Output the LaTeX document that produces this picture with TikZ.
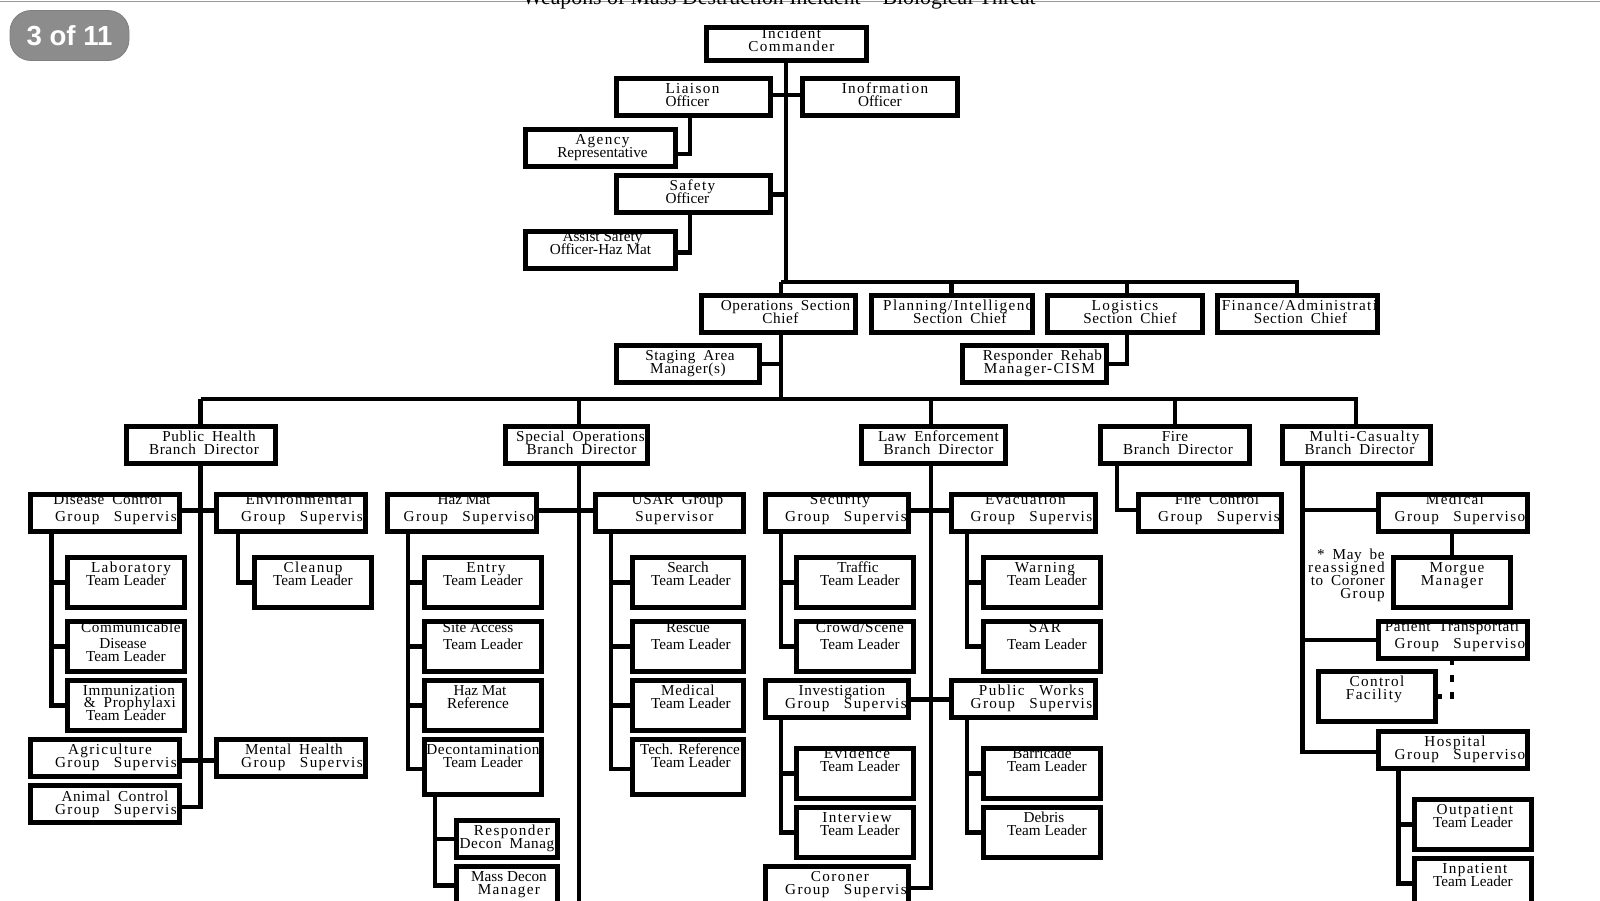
\documentclass[tikz,border=0pt]{standalone}
\usepackage{fontspec}
\setmainfont{Liberation Serif}
\newfontfamily\wf[LetterSpace=9,WordSpace=2.8]{Liberation Serif}
\newfontfamily\wg[LetterSpace=4,WordSpace=1.8]{Liberation Serif}
\newfontfamily\badgefont{Liberation Sans}
\newcommand\chartfont{\fontsize{7.6}{6.35}\selectfont\lineskiplimit=-8pt}
\newcommand\mv[2]{\hspace*{#1pt}{#2}}
\newcommand\ws[2]{\hspace*{#1pt}{\wf #2}}
\newcommand\wt[2]{\hspace*{#1pt}{\wg #2}}
\tikzset{
    box/.style={draw, line width=2.3pt, rectangle, anchor=north west, inner sep=0pt, outer sep=0pt, align=center, text height=14pt, text depth=4.75pt, font=\chartfont},
    groupbox/.style={box, text height=13.4pt, text depth=5.35pt, minimum width=74.75pt},
    flatbox/.style={groupbox, text height=14pt, text depth=4.75pt},
    teambox/.style={box, text depth=11.25pt, minimum width=58.75pt},
    usarbox/.style={teambox, minimum width=55.75pt},
    tallbox/.style={teambox, text depth=13.75pt},
    smallbox/.style={box, minimum width=50.75pt},
    link/.style={draw, line width=2.3pt},
    dashlink/.style={link, dash pattern=on 3.5pt off 5pt, dash phase=1.7pt},
    stublink/.style={link, dash pattern=on 3pt off 10pt},
    badge/.style={rectangle, rounded corners=10.5pt, fill=black!45, draw=black!50, line width=.4pt, minimum width=59.5pt, minimum height=25pt, inner sep=0pt, text=white, font=\badgefont\bfseries\fontsize{13.8}{14}\selectfont},
    note/.style={anchor=base east, align=right, inner sep=0pt, font=\chartfont\wg},
    rule/.style={draw=black!40, line width=.6pt}
}

\begin{document}
\begin{tikzpicture}[x=0.5pt,y=-0.5pt]
\clip (0,0) rectangle (1600,900);

\coordinate (ruleL) at (0,1.4);
\coordinate (ruleR) at (1600,1.4);
\draw[rule] (ruleL) -- (ruleR);
\node[anchor=base, inner sep=0pt, font=\fontsize{10.9}{12}\selectfont] (title) at (779,4.5) {Weapons of Mass Destruction Incident -- Biological Threat};
\node[badge] (pageno) at (69.5,35.5) {3 of 11};

\node[box, minimum width=80.25pt, text height=11.9pt, text depth=4.85pt] (ic) at (706.2,27.2) {\ws{5}{Incident}\\\ws{5}{Commander}};
\node[box, minimum width=77.25pt] (liaison) at (616.2,78.2) {\ws{-1}{Liaison}\\\mv{-6}{Officer}};
\node[box, minimum width=77.75pt] (info) at (802.2,78.2) {\ws{5}{Inofrmation}\\Officer};
\node[box, minimum width=75.25pt] (agency) at (525.2,129.2) {\ws{2}{Agency}\\\mv{2}{Representative}};
\node[box, minimum width=77.25pt] (safety) at (616.2,175.2) {\ws{-1}{Safety}\\\mv{-6}{Officer}};
\node[box, minimum width=75.25pt, text height=11.6pt, text depth=7.15pt] (assist) at (525.2,231.2) {\mv{2}{Assist Safety}\\Officer-Haz Mat};

\node[box, minimum width=77.25pt] (ops) at (701.2,295.2) {\wt{7}{Operations Section}\\\wt{2}{Chief}};
\node[box, minimum width=80.25pt] (planning) at (871.2,295.2) {\ws{6}{Planning/Intelligenc}\\\wt{8}{Section Chief}};
\node[box, minimum width=77.75pt] (logistics) at (1047.2,295.2) {\ws{0}{Logistics}\\\wt{5}{Section Chief}};
\node[box, minimum width=80.25pt] (finance) at (1217.2,295.2) {\ws{2}{Finance/Administrati}\\\wt{3}{Section Chief}};
\node[box, minimum width=71.75pt] (staging) at (616.2,345.2) {\wt{2}{Staging Area}\\\wt{0}{Manager(s)}};
\node[box, minimum width=72.25pt] (rehab) at (962.2,345.2) {\wt{8}{Responder Rehab}\\\ws{5}{Manager-CISM}};

\node[box, minimum width=74.75pt] (public) at (126.2,426.2) {\wt{8}{Public Health}\\\wt{3}{Branch Director}};
\node[box, minimum width=71.25pt] (special) at (505.2,426.2) {\wt{4}{Special Operations}\\\wt{5}{Branch Director}};
\node[box, minimum width=72.25pt] (law) at (861.2,426.2) {\wt{5}{Law Enforcement}\\\wt{5}{Branch Director}};
\node[box, minimum width=74.75pt] (fire) at (1100.2,426.2) {\wt{0}{Fire}\\\wt{3}{Branch Director}};
\node[box, minimum width=74.25pt] (multi) at (1282.2,426.2) {\ws{8}{Multi-Casualty}\\\wt{3}{Branch Director}};

\node[groupbox] (disease) at (30.2,494.2) {\wt{3}{Disease Control}\\[2.1pt]\ws{11}{Group Supervis}};
\node[groupbox] (env) at (216.2,494.2) {\ws{8}{Environmental}\\[2.1pt]\ws{11}{Group Supervis}};
\node[teambox] (lab) at (67.2,557.2) {\ws{5}{Laboratory}\\Team Leader};
\node[teambox] (cleanup) at (254.2,557.2) {\ws{0}{Cleanup}\\Team Leader};
\node[teambox, text height=20.2pt, text depth=5.05pt] (comm) at (67.2,621.2) {\wt{5}{Communicable}\\[2.1pt]\mv{-3}{Disease}\\Team Leader};
\node[teambox, text height=20.2pt, text depth=5.05pt] (immun) at (67.2,680.2) {\wt{3}{Immunization}\\\wt{4}{\& Prophylaxi}\\Team Leader};
\node[flatbox] (agri) at (30.2,739.2) {\ws{5}{Agriculture}\\\ws{11}{Group Supervis}};
\node[flatbox] (mental) at (216.2,739.2) {\wt{3}{Mental Health}\\\ws{11}{Group Supervis}};
\node[flatbox, text height=14.6pt, text depth=4.15pt] (animal) at (30.2,785.2) {\wt{10}{Animal Control}\\\ws{11}{Group Supervis}};

\node[groupbox] (hazmat) at (387.2,494.2) {\mv{2}{Haz Mat}\\[2.1pt]\ws{7}{Group Superviso}};
\node[groupbox, minimum width=74.25pt] (usar) at (595.2,494.2) {\wt{8}{USAR Group}\\[2.1pt]\ws{5}{Supervisor}};
\node[teambox] (entry) at (424.2,557.2) {\ws{3}{Entry}\\Team Leader};
\node[teambox] (site) at (424.2,621.2) {\mv{-5}{Site Access}\\[2.1pt]Team Leader};
\node[teambox] (hazref) at (424.2,680.2) {\mv{-3}{Haz Mat}\\\mv{-5}{Reference}};
\node[tallbox] (decon) at (424.2,739.2) {\wt{0}{Decontamination}\\Team Leader};
\node[smallbox] (rdecon) at (456.2,820.2) {\ws{5}{Responder}\\\wt{0}{Decon Manag}};
\node[smallbox, text depth=5.5pt] (mass) at (456.2,866.2) {\mv{2}{Mass Decon}\\\ws{2}{Manager}};
\node[usarbox] (search) at (632.2,557.2) {\mv{0}{Search}\\\mv{3}{Team Leader}};
\node[usarbox] (rescue) at (632.2,621.2) {\mv{0}{Rescue}\\[2.1pt]\mv{3}{Team Leader}};
\node[usarbox] (medteam) at (632.2,680.2) {\wt{0}{Medical}\\\mv{3}{Team Leader}};
\node[usarbox, text depth=13.75pt] (tech) at (632.2,739.2) {\mv{2}{Tech. Reference}\\\mv{3}{Team Leader}};

\node[groupbox, minimum width=71.75pt] (security) at (765.2,494.2) {\ws{3}{Security}\\[2.1pt]\ws{9}{Group Supervis}};
\node[groupbox, minimum width=72.25pt] (evac) at (951.2,494.2) {\ws{2}{Evacuation}\\[2.1pt]\ws{8}{Group Supervis}};
\node[teambox] (traffic) at (796.2,557.2) {\mv{3}{Traffic}\\\mv{5}{Team Leader}};
\node[teambox] (crowd) at (796.2,621.2) {\wt{5}{Crowd/Scene}\\[2.1pt]\mv{5}{Team Leader}};
\node[flatbox, minimum width=71.75pt] (invest) at (765.2,680.2) {\wt{5}{Investigation}\\\ws{9}{Group Supervis}};
\node[teambox, text height=11.6pt, text depth=13.65pt] (evidence) at (796.2,748.2) {\ws{2}{Evidence}\\\mv{5}{Team Leader}};
\node[teambox] (interview) at (796.2,807.2) {\ws{2}{Interview}\\\mv{5}{Team Leader}};
\node[flatbox, minimum width=71.75pt] (coroner) at (765.2,866.2) {\ws{3}{Coroner}\\\ws{9}{Group Supervis}};
\node[teambox] (warning) at (983.2,557.2) {\ws{3}{Warning}\\\mv{5}{Team Leader}};
\node[teambox] (sar) at (983.2,621.2) {\ws{3}{SAR}\\[2.1pt]\mv{5}{Team Leader}};
\node[flatbox, minimum width=72.25pt] (works) at (951.2,680.2) {\ws{8}{Public Works}\\\ws{8}{Group Supervis}};
\node[teambox, text height=11.6pt, text depth=13.65pt] (barricade) at (983.2,748.2) {\mv{0}{Barricade}\\\mv{5}{Team Leader}};
\node[teambox] (debris) at (983.2,807.2) {\mv{2}{Debris}\\\mv{5}{Team Leader}};

\node[groupbox, minimum width=71.75pt] (firectrl) at (1138.2,494.2) {\wt{7}{Fire Control}\\[2.1pt]\ws{9}{Group Supervis}};
\node[groupbox] (medical) at (1378.2,494.2) {\ws{2}{Medical}\\[2.1pt]\ws{7}{Group Superviso}};
\node[teambox] (morgue) at (1393.2,557.2) {\ws{5}{Morgue}\\\ws{0}{Manager}};
\node[groupbox] (patient) at (1378.2,621.2) {\wt{-1}{Patient Transportati}\\[2.1pt]\ws{7}{Group Superviso}};
\node[teambox] (control) at (1318.2,671.2) {\ws{0}{Control}\\\ws{-3}{Facility}};
\node[flatbox] (hospital) at (1378.2,731.2) {\ws{2}{Hospital}\\\ws{7}{Group Superviso}};
\node[teambox] (outpatient) at (1414.2,799.2) {\ws{2}{Outpatient}\\Team Leader};
\node[teambox] (inpatient) at (1414.2,858.2) {\ws{2}{Inpatient}\\Team Leader};
\node[note] (reassign) at (1385,598) {* May be\\\hspace*{0pt}{\wf reassigned}\hspace*{5pt}\\to Coroner\\{\wf Group}};

\coordinate (icbus) at (786,282);
\coordinate (opsdrop) at (781,282);
\coordinate (busend) at (1297,282);
\coordinate (planbus) at (951.5,282);
\coordinate (logbus) at (1127,282);
\coordinate (officerL) at (690,118);
\coordinate (officerS) at (690,215);
\coordinate (opsstem) at (781,335);
\coordinate (opsbus) at (781,399);
\coordinate (logstem) at (1127,335);
\draw[link] (icbus |- ic.south) -- (icbus);
\draw[link] (opsdrop) -- (busend) -- (finance.north -| busend);
\draw[link] (opsdrop) -- (opsdrop |- ops.north);
\draw[link] (planbus) -- (planbus |- planning.north);
\draw[link] (logbus) -- (logbus |- logistics.north);
\draw[link] ([yshift=1pt]liaison.east) -- ([yshift=1pt]info.west);
\draw[link] ([yshift=-.2pt]safety.east) -- ([yshift=-.2pt]safety.east -| icbus);
\draw[link] (officerL) |- ([yshift=-3pt]agency.east);
\draw[link] (officerS) |- ([yshift=-1.3pt]assist.east);
\draw[link] (opsstem) -- (opsbus);
\draw[link] (staging.east) -- (staging.east -| opsstem);
\draw[link] (logstem) |- (rehab.east);

\coordinate (busL) at (200.5,399);
\coordinate (busR) at (1356,399);
\coordinate (busS) at (579,399);
\coordinate (busN) at (931,399);
\coordinate (busF) at (1175,399);
\coordinate (specialend) at (579,905);
\coordinate (lawstem) at (931,888);
\coordinate (publicstem) at (200.5,807);
\coordinate (firestem) at (1117,465);
\coordinate (multistem) at (1302.5,465);
\draw[link] (busL) -- (busR) -- (busR |- multi.north);
\draw[link] (busL) -- (busL |- public.north);
\draw[link] (busS) -- (busS |- special.north);
\draw[link] (busS |- special.south) -- (specialend);
\draw[link] (busN) -- (busN |- law.north);
\draw[link] (busN |- law.south) -- (lawstem) -- (lawstem -| coroner.east);
\draw[link] (busF) -- (busF |- fire.north);
\draw[link] (publicstem |- public.south) -- (publicstem) -- (publicstem -| animal.east);
\draw[link] ([yshift=1.2pt]disease.east) -- ([yshift=1.2pt]env.west);
\draw[link] ([yshift=-1.2pt]agri.east) -- ([yshift=-1.2pt]mental.west);

\coordinate (diseasestem) at (51.5,533);
\coordinate (envstem) at (238,533);
\draw[link] (diseasestem) |- (immun.west);
\draw[link] (diseasestem |- lab.west) -- (lab.west);
\draw[link] (diseasestem |- comm.west) -- (comm.west);
\draw[link] (envstem) |- (cleanup.west);

\coordinate (hazstem) at (408,533);
\coordinate (usarstem) at (611,533);
\coordinate (deconstem) at (435,797);
\draw[link] ([yshift=1.2pt]hazmat.east) -- ([yshift=1.2pt]usar.west);
\draw[link] (hazstem) |- ([yshift=-1pt]decon.west);
\draw[link] (hazstem |- entry.west) -- (entry.west);
\draw[link] (hazstem |- site.west) -- (site.west);
\draw[link] (hazstem |- hazref.west) -- (hazref.west);
\draw[link] (usarstem) |- ([yshift=-1pt]tech.west);
\draw[link] (usarstem |- search.west) -- (search.west);
\draw[link] (usarstem |- rescue.west) -- (rescue.west);
\draw[link] (usarstem |- medteam.west) -- (medteam.west);
\draw[link] (deconstem) |- (mass.west);
\draw[link] (deconstem |- rdecon.west) -- (rdecon.west);

\coordinate (secstem) at (781,533);
\coordinate (invstem) at (781,720);
\coordinate (evacstem) at (967,533);
\coordinate (workstem) at (967,720);
\draw[link] ([yshift=1.2pt]security.east) -- ([yshift=1.2pt]evac.west);
\draw[link] ([yshift=-.2pt]invest.east) -- ([yshift=-.2pt]works.west);
\draw[link] (secstem) |- (crowd.west);
\draw[link] (secstem |- traffic.west) -- (traffic.west);
\draw[link] (invstem) |- (interview.west);
\draw[link] (invstem |- evidence.west) -- (evidence.west);
\draw[link] (evacstem) |- (sar.west);
\draw[link] (evacstem |- warning.west) -- (warning.west);
\draw[link] (workstem) |- (debris.west);
\draw[link] (workstem |- barricade.west) -- (barricade.west);

\coordinate (linkF) at (1117,510);
\coordinate (linkM) at (1302.5,510);
\coordinate (morguestem) at (1452,533);
\coordinate (patstem) at (1452,661);
\coordinate (ctrlcorner) at (1452,699);
\coordinate (hospstem) at (1398.5,771);
\draw[link] (firestem) -- (linkF) -- (linkF -| firectrl.west);
\draw[link] (multistem) |- ([yshift=-1pt]hospital.west);
\draw[link] (linkM) -- (linkM -| medical.west);
\draw[link] (linkM |- patient.west) -- (patient.west);
\draw[link] (morguestem) -- (morguestem |- morgue.north);
\draw[dashlink] (patstem) -- (ctrlcorner);
\draw[stublink] (control.east) -- (control.east -| ctrlcorner);
\draw[link] (hospstem) |- (inpatient.west);
\draw[link] (hospstem |- outpatient.west) -- (outpatient.west);
\end{tikzpicture}
\end{document}
